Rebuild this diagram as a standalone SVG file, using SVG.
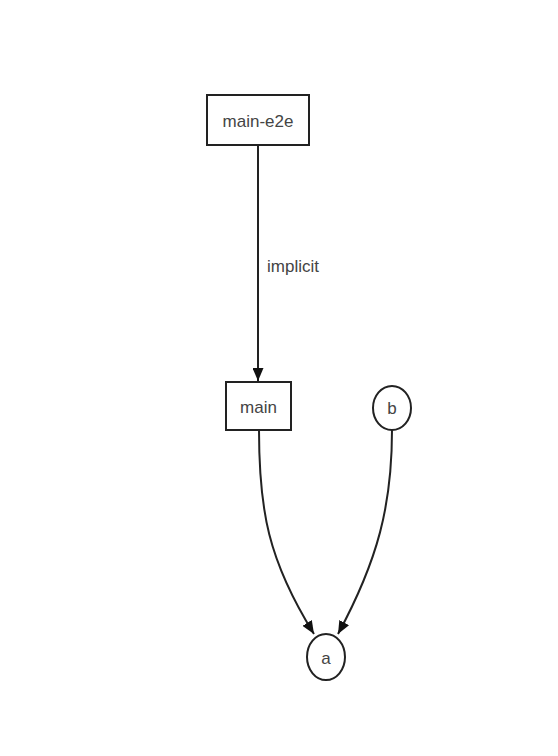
<svg xmlns="http://www.w3.org/2000/svg" width="558" height="756" viewBox="0 0 558 756">
<style>
.node{fill:#fff;stroke:#222;stroke-width:2}
.lbl{font-family:"Liberation Sans",Arial,sans-serif;font-size:17px;fill:#444;text-anchor:middle;dominant-baseline:central}
.edge{fill:none;stroke:#222;stroke-width:2}
</style>
<defs>
<marker id="arr" viewBox="0 0 13 11" refX="13" refY="5.5" markerWidth="13" markerHeight="11" markerUnits="userSpaceOnUse" orient="auto">
<path d="M0,0 L13,5.5 L0,11 Z" fill="#111"/>
</marker>
</defs>
<rect width="558" height="756" fill="#fff"/>
<g id="connectors">
<path class="edge" d="M258,145 L258,381" marker-end="url(#arr)"/>
<text class="lbl" x="293" y="266">implicit</text>
<path class="edge" d="M259,430 C259,510 268,560 314,634" marker-end="url(#arr)"/>
<path class="edge" d="M392,430 C392,505 378,560 338,634" marker-end="url(#arr)"/>
</g>
<g id="node-main-e2e">
<rect class="node" x="207" y="95" width="102" height="50"/>
<text class="lbl" x="258" y="121">main-e2e</text>
</g>
<g id="node-main">
<rect class="node" x="226" y="382" width="65" height="48"/>
<text class="lbl" x="258.5" y="407">main</text>
</g>
<g id="node-b">
<ellipse class="node" cx="392" cy="408" rx="19" ry="22"/>
<text class="lbl" x="392" y="408">b</text>
</g>
<g id="node-a">
<ellipse class="node" cx="326" cy="657" rx="19" ry="23"/>
<text class="lbl" x="326" y="658">a</text>
</g>
</svg>
